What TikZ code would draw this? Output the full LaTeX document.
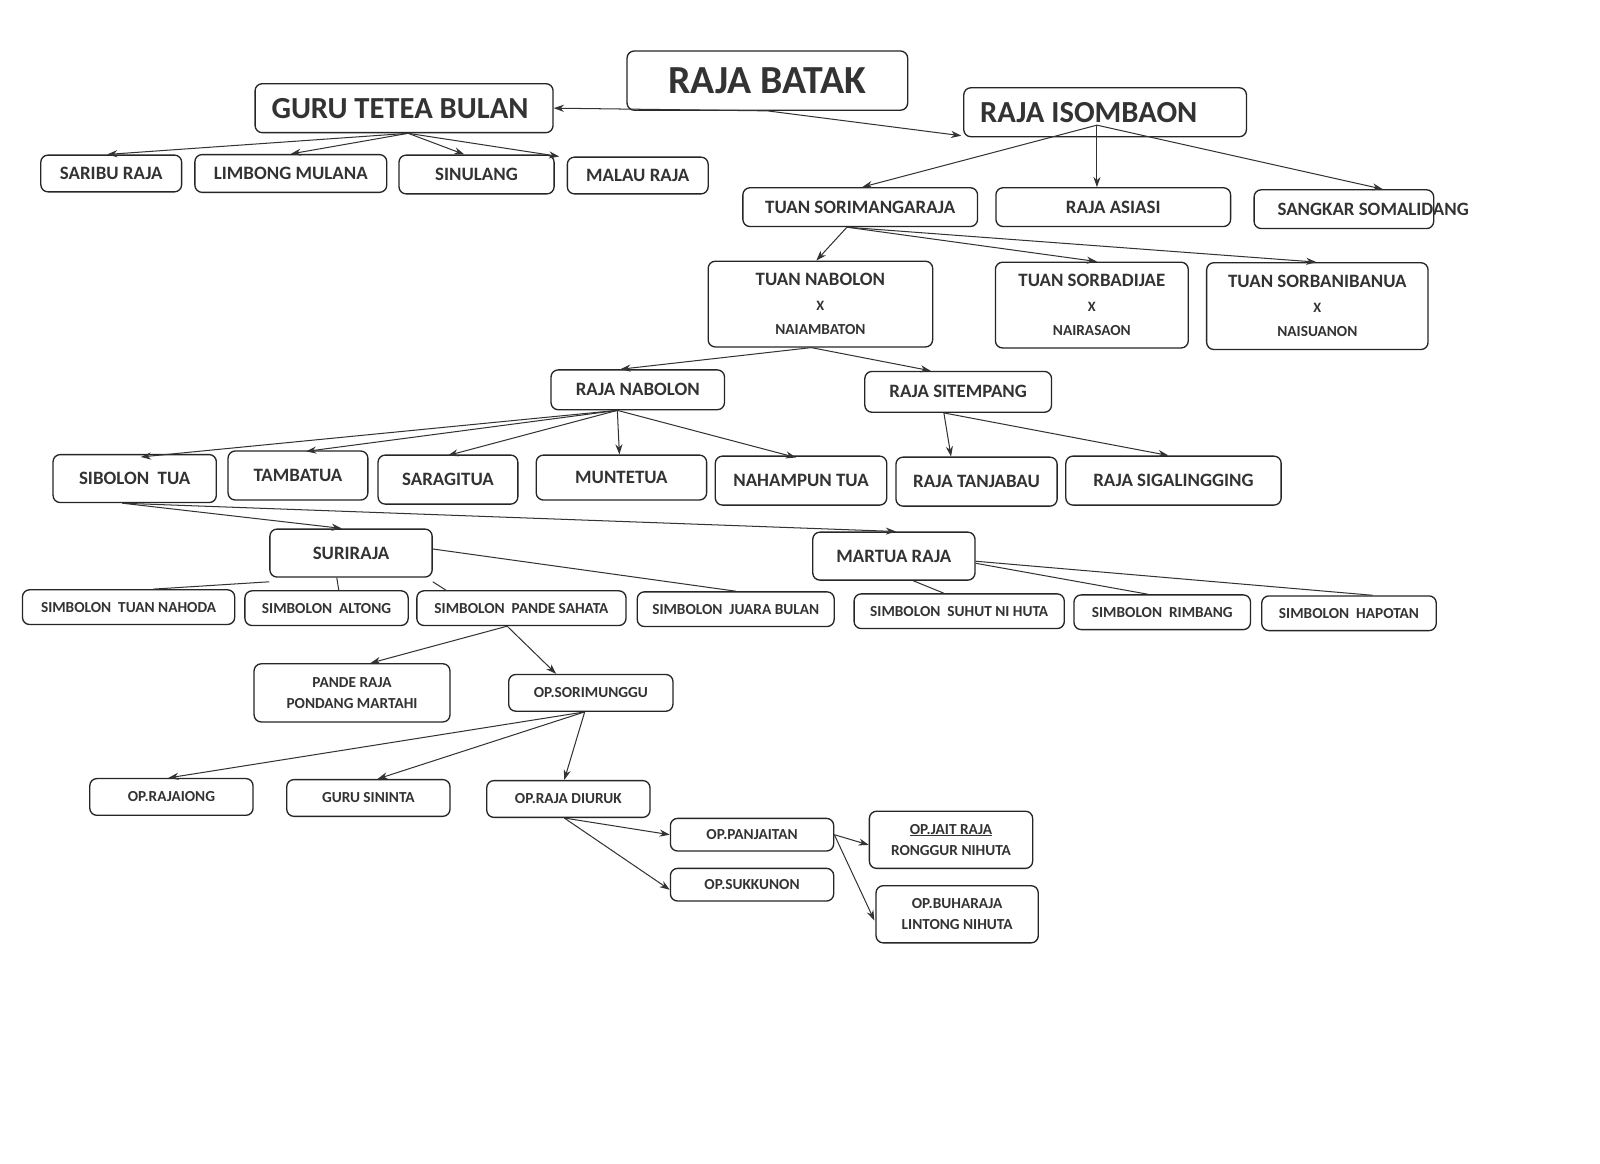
\documentclass[tikz,border=0pt]{standalone}
\usepackage{fontspec}
\setmainfont{Carlito}
\usetikzlibrary{arrows.meta}
\begin{document}
\begin{tikzpicture}[x=1pt,y=-1pt,
 box/.style={draw=black!85,line width=1.3pt,rounded corners=7pt,inner sep=0pt,align=center,font=\bfseries\fontsize{18.5}{22}\selectfont,text=black!80},
 sm/.style={box,font=\bfseries\fontsize{15}{21}\selectfont},
 ar/.style={draw=black!80,line width=1pt,-{Stealth[length=10pt,width=7pt]}},
 ln/.style={draw=black!80,line width=1pt}]
\fill[white] (0,0) rectangle (1568,1140);
\node[box,minimum width=275,minimum height=58,font=\bfseries\fontsize{39}{42}\selectfont] (batak) at (752,79) {RAJA BATAK};
\node[box,minimum width=292,minimum height=48,font=\bfseries\fontsize{30}{32}\selectfont] (guru) at (396,106) {GURU TETEA BULAN\hspace*{8pt}};
\node[box,minimum width=277,minimum height=48,font=\bfseries\fontsize{30}{32}\selectfont] (isom) at (1083,110) {RAJA ISOMBAON\hspace*{32pt}};
\node[box,minimum width=138,minimum height=36] (saribu) at (109,170) {SARIBU RAJA};
\node[box,minimum width=188,minimum height=37] (limbong) at (285,170) {LIMBONG MULANA};
\node[box,minimum width=152,minimum height=38] (sinulang) at (467,171) {SINULANG};
\node[box,minimum width=138,minimum height=36] (malau) at (625,172) {MALAU RAJA};
\node[box,minimum width=230,minimum height=38] (sori) at (843,203) {TUAN SORIMANGARAJA};
\node[box,minimum width=230,minimum height=38] (asiasi) at (1091,203) {RAJA ASIASI};
\node[box,minimum width=176,minimum height=38] (sangkar) at (1317,205) {\makebox[170pt][l]{\hspace*{20pt}SANGKAR SOMALIDANG}};
\node[box,minimum width=220,minimum height=84,font=\bfseries\fontsize{18.5}{24}\selectfont] (nabolon) at (804,298) {TUAN NABOLON\\{\fontsize{14}{20}\selectfont X}\\{\fontsize{15}{16}\selectfont NAIAMBATON}};
\node[box,minimum width=189,minimum height=84,font=\bfseries\fontsize{18.5}{24}\selectfont] (sorbad) at (1070,299) {TUAN SORBADIJAE\\{\fontsize{14}{20}\selectfont X}\\{\fontsize{15}{16}\selectfont NAIRASAON}};
\node[box,minimum width=217,minimum height=85,font=\bfseries\fontsize{18.5}{24}\selectfont] (sorban) at (1291,300) {TUAN SORBANIBANUA\\{\fontsize{14}{20}\selectfont X}\\{\fontsize{15}{16}\selectfont NAISUANON}};
\node[box,minimum width=170,minimum height=39] (rnab) at (625,382) {RAJA NABOLON};
\node[box,minimum width=183,minimum height=40] (rsit) at (939,384) {RAJA SITEMPANG};
\node[box,minimum width=160,minimum height=47] (sibolon) at (132,469) {SIBOLON\ \ TUA};
\node[box,minimum width=137,minimum height=48] (tamba) at (292,466) {TAMBATUA};
\node[box,minimum width=137,minimum height=48] (sara) at (439,470) {SARAGITUA};
\node[box,minimum width=167,minimum height=44] (munte) at (609,468) {MUNTETUA};
\node[box,minimum width=168,minimum height=48] (naham) at (785,471) {NAHAMPUN TUA};
\node[box,minimum width=158,minimum height=48] (tanja) at (957,472) {RAJA TANJABAU};
\node[box,minimum width=211,minimum height=48] (siga) at (1150,471) {RAJA SIGALINGGING};
\node[box,minimum width=159,minimum height=47] (suri) at (344,542) {SURIRAJA};
\node[box,minimum width=159,minimum height=47] (martua) at (876,545) {MARTUA RAJA};
\node[sm,minimum width=208,minimum height=34] (nahoda) at (126,595) {SIMBOLON\ \ TUAN NAHODA};
\node[sm,minimum width=160,minimum height=34] (altong) at (320,596) {SIMBOLON\ \ ALTONG};
\node[sm,minimum width=205,minimum height=34] (pande) at (511,596) {SIMBOLON\ \ PANDE SAHATA};
\node[sm,minimum width=193,minimum height=34] (juara) at (721,597) {SIMBOLON\ \ JUARA BULAN};
\node[sm,minimum width=206,minimum height=34] (suhut) at (940,599) {SIMBOLON\ \ SUHUT NI HUTA};
\node[sm,minimum width=173,minimum height=34] (rimbang) at (1139,600) {SIMBOLON\ \ RIMBANG};
\node[sm,minimum width=171,minimum height=34] (hapotan) at (1322,601) {SIMBOLON\ \ HAPOTAN};
\node[sm,minimum width=192,minimum height=57] (praja) at (345,679) {PANDE RAJA\\PONDANG MARTAHI};
\node[sm,minimum width=161,minimum height=36] (sorim) at (579,679) {OP.SORIMUNGGU};
\node[sm,minimum width=160,minimum height=36] (rajaiong) at (168,781) {OP.RAJAIONG};
\node[sm,minimum width=160,minimum height=36] (sininta) at (361,782) {GURU SININTA};
\node[sm,minimum width=160,minimum height=36] (diuruk) at (557,783) {OP.RAJA DIURUK};
\node[sm,minimum width=160,minimum height=32] (panj) at (737,818) {OP.PANJAITAN};
\node[sm,minimum width=160,minimum height=32] (sukk) at (737,867) {OP.SUKKUNON};
\node[sm,minimum width=160,minimum height=56] (jait) at (932,823) {\underline{OP.JAIT RAJA}\\RONGGUR NIHUTA};
\node[sm,minimum width=159,minimum height=56] (buha) at (938,896) {OP.BUHARAJA\\LINTONG NIHUTA};
% connectors
\coordinate (isomin) at (942,133);
\draw[ar] (batak.south) -- (guru.east);
\draw[ar] (batak.south) -- (isomin);
\coordinate (g0) at ([xshift=4]guru.south);
\draw[ar] (g0) -- ([xshift=-4]saribu.north);
\draw[ar] (g0) -- (limbong.north);
\draw[ar] (g0) -- ([xshift=-12]sinulang.north);
\draw[ar] (g0) -- ([xshift=-77]malau.north);
\coordinate (i0) at ([xshift=-8,yshift=12]isom.south);
\draw[ar] (i0) -- ([xshift=2]sori.north);
\draw[ar] (i0) -- ([xshift=-16]asiasi.north);
\draw[ar] (i0) -- ([xshift=38]sangkar.north);
\coordinate (s0) at ([xshift=-13]sori.south);
\draw[ar] (s0) -- ([xshift=-4]nabolon.north);
\draw[ar] (s0) -- ([xshift=5]sorbad.north);
\draw[ar] (s0) -- ([xshift=-1]sorban.north);
\coordinate (n0) at ([xshift=-9]nabolon.south);
\draw[ar] (n0) -- ([xshift=-17]rnab.north);
\draw[ar] (n0) -- ([xshift=-27]rsit.north);
\coordinate (r0) at ([xshift=-20]rnab.south);
\draw[ar] (r0) -- ([xshift=6,yshift=-3]sibolon.north);
\draw[ar] (r0) -- ([xshift=8,yshift=-1]tamba.north);
\draw[ar] (r0) -- ([yshift=-1]sara.north);
\draw[ar] (r0) -- ([xshift=-2]munte.north);
\draw[ar] (r0) -- ([xshift=-5,yshift=-2]naham.north);
\coordinate (t0) at ([xshift=-14]rsit.south);
\draw[ar] (t0) -- ([xshift=-25]tanja.north);
\draw[ar] (t0) -- ([xshift=-5]siga.north);
\coordinate (b0) at ([xshift=-12]sibolon.south);
\draw[ar] (b0) -- ([xshift=-9]suri.north);
\draw[ar] (b0) -- ([xshift=2]martua.north);
\draw[ln] ([yshift=-4]suri.south west) -- ([xshift=24]nahoda.north);
\draw[ln] ([xshift=-14]suri.south) -- ([xshift=12]altong.north);
\draw[ln] ([yshift=-4]suri.south east) -- ([xshift=-74]pande.north);
\draw[ln] ([yshift=4]suri.east) -- (juara.north);
\draw[ln] ([xshift=19]martua.south) -- ([xshift=-15]suhut.north);
\draw[ln] ([yshift=-7]martua.east) -- ([xshift=-14]rimbang.north);
\draw[ln] ([yshift=-5]martua.east) -- ([xshift=23]hapotan.north);
\coordinate (p0) at ([xshift=-14]pande.south);
\draw[ar] (p0) -- ([xshift=18]praja.north);
\draw[ar] (p0) -- ([xshift=-34]sorim.north);
\coordinate (o0) at ([xshift=-6]sorim.south);
\draw[ar] (o0) -- ([xshift=-3]rajaiong.north);
\draw[ar] (o0) -- ([xshift=9]sininta.north);
\draw[ar] (o0) -- ([xshift=-4]diuruk.north);
\coordinate (d0) at ([xshift=-4]diuruk.south);
\draw[ar] (d0) -- (panj.west);
\draw[ar] (d0) -- ([yshift=-5]sukk.west);
\draw[ar] (panj.east) -- ([yshift=-5]jait.west);
\draw[ar] (panj.east) -- ([xshift=-1,yshift=-6]buha.west);
\pgfresetboundingbox
\useasboundingbox (0,0) rectangle (1568,1140);
\end{tikzpicture}
\end{document}
